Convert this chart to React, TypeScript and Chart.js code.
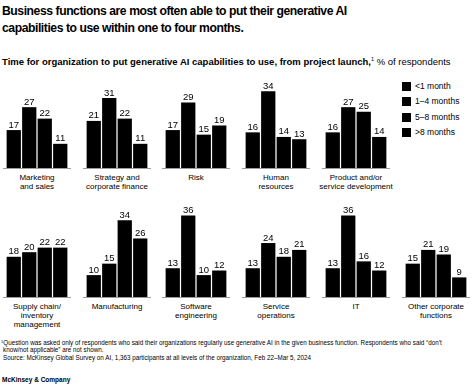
import React, { useEffect, useRef } from "react";
import { Chart, registerables } from "chart.js";

Chart.register(...registerables);

// ---- Data ----
const categories: string[][] = [
  ["Marketing", "and sales"],
  ["Strategy and", "corporate finance"],
  ["Risk"],
  ["Human", "resources"],
  ["Product and/or", "service development"],
  ["Supply chain/", "inventory", "management"],
  ["Manufacturing"],
  ["Software", "engineering"],
  ["Service", "operations"],
  ["IT"],
  ["Other corporate", "functions"],
];
const seriesNames = ["<1 month", "1–4 months", "5–8 months", ">8 months"];
const lessThan1Month = [17, 21, 17, 16, 16, 18, 10, 13, 13, 13, 15];
const oneToFourMonths = [27, 31, 29, 34, 27, 20, 15, 36, 24, 36, 21];
const fiveToEightMonths = [22, 22, 15, 14, 25, 22, 34, 10, 18, 16, 19];
const moreThan8Months = [11, 11, 19, 13, 14, 22, 26, 12, 21, 12, 9];
const seriesValues = [lessThan1Month, oneToFourMonths, fiveToEightMonths, moreThan8Months];

const FONT = '"Liberation Sans", Arial, Helvetica, sans-serif';
const COL_LEFT = [3, 83, 162, 242, 322, 402];
const PANEL_W = 68;
const PANEL_H = 100;
const ROW_AXIS = [168, 297];

const panelPlugin = {
  id: "panelDecor",
  afterDatasetsDraw(chart: any) {
    const ctx = chart.ctx;
    const area = chart.chartArea;
    ctx.save();
    ctx.strokeStyle = "#9c9c9c";
    ctx.lineWidth = 1;
    ctx.beginPath();
    ctx.moveTo(0, area.bottom - 0.5);
    ctx.lineTo(chart.width, area.bottom - 0.5);
    ctx.stroke();
    const meta = chart.getDatasetMeta(0);
    const data = chart.data.datasets[0].data;
    ctx.fillStyle = "#000";
    ctx.font = `9.5px ${FONT}`;
    ctx.textAlign = "center";
    ctx.textBaseline = "alphabetic";
    meta.data.forEach((bar: any, i: number) => {
      ctx.fillText(String(data[i]), bar.x, bar.y - 2.5);
    });
    ctx.restore();
  },
};

function Panel({ index, left, axisY }: { index: number; left: number; axisY: number }) {
  const ref = useRef<HTMLCanvasElement>(null);
  useEffect(() => {
    const values = seriesValues.map((s) => s[index]);
    const chart = new Chart(ref.current as HTMLCanvasElement, {
      type: "bar",
      data: {
        labels: seriesNames,
        datasets: [
          {
            data: values,
            backgroundColor: "#000",
            borderWidth: 0,
            barPercentage: 0.92,
            categoryPercentage: 1,
          },
        ],
      },
      options: {
        animation: false,
        responsive: false,
        devicePixelRatio: 1,
        layout: { padding: { left: 3, right: 3, top: 0, bottom: 0 } },
        scales: {
          x: { display: false },
          y: { display: false, min: 0, max: PANEL_H / 2.29 },
        },
        plugins: { legend: { display: false }, tooltip: { enabled: false } },
      },
      plugins: [panelPlugin],
    });
    return () => chart.destroy();
  }, [index]);
  const top = axisY - (PANEL_H - 1);
  return (
    <>
      <canvas
        ref={ref}
        width={PANEL_W}
        height={PANEL_H}
        style={{ position: "absolute", left, top, width: PANEL_W, height: PANEL_H }}
      />
      <div
        style={{
          position: "absolute",
          left: left - 16,
          width: PANEL_W + 32,
          top: axisY + 5,
          textAlign: "center",
          fontSize: 8,
          lineHeight: "9px",
          color: "#000",
          whiteSpace: "nowrap",
        }}
      >
        {categories[index].map((l, k) => (
          <div key={k}>{l}</div>
        ))}
      </div>
    </>
  );
}

export default function App() {
  const panels: { index: number; left: number; axisY: number }[] = [];
  for (let i = 0; i < 5; i++) panels.push({ index: i, left: COL_LEFT[i], axisY: ROW_AXIS[0] });
  for (let i = 0; i < 6; i++) panels.push({ index: 5 + i, left: COL_LEFT[i], axisY: ROW_AXIS[1] });
  return (
    <div
      style={{
        position: "absolute",
        left: 0,
        top: 0,
        width: 474,
        height: 386,
        background: "#fff",
        fontFamily: FONT,
        color: "#000",
        overflow: "hidden",
      }}
    >
      <div
        style={{
          position: "absolute",
          left: 2,
          top: 3,
          fontSize: 12.2,
          lineHeight: "17px",
          fontWeight: 700,
          letterSpacing: "-0.45px",
          whiteSpace: "nowrap",
        }}
      >
        Business functions are most often able to put their generative AI
        <br />
        capabilities to use within one to four months.
      </div>
      <div
        style={{
          position: "absolute",
          left: 2,
          top: 56,
          fontSize: 9.5,
          lineHeight: "11px",
          whiteSpace: "nowrap",
        }}
      >
        <b>Time for organization to put generative AI capabilities to use, from project launch,</b>
        <sup style={{ fontSize: 5.5, verticalAlign: "top", lineHeight: "6px" }}>1</sup> % of respondents
      </div>
      {seriesNames.map((n, i) => (
        <div key={n}>
          <div
            style={{
              position: "absolute",
              left: 402,
              top: 82 + i * 15.3,
              width: 9,
              height: 9,
              background: "#000",
            }}
          />
          <div
            style={{
              position: "absolute",
              left: 415,
              top: 81 + i * 15.3,
              fontSize: 8.5,
              lineHeight: "10px",
              whiteSpace: "nowrap",
            }}
          >
            {n}
          </div>
        </div>
      ))}
      {panels.map((p) => (
        <Panel key={p.index} index={p.index} left={p.left} axisY={p.axisY} />
      ))}
      <div
        style={{
          position: "absolute",
          left: 1,
          top: 338.5,
          fontSize: 6.3,
          lineHeight: "7.5px",
          whiteSpace: "nowrap",
        }}
      >
        <div>
          <sup style={{ fontSize: 4, verticalAlign: "top", lineHeight: "5px" }}>1</sup>
          Question was asked only of respondents who said their organizations regularly use generative AI in the given
          business function. Respondents who said “don’t
        </div>
        <div style={{ paddingLeft: 2 }}>know/not applicable” are not shown.</div>
        <div style={{ paddingLeft: 2 }}>
          Source: McKinsey Global Survey on AI, 1,363 participants at all levels of the organization, Feb 22–Mar 5, 2024
        </div>
      </div>
      <div
        style={{
          position: "absolute",
          left: 2,
          top: 376,
          fontSize: 6.5,
          lineHeight: "8px",
          fontWeight: 700,
          whiteSpace: "nowrap",
        }}
      >
        McKinsey &amp; Company
      </div>
    </div>
  );
}
